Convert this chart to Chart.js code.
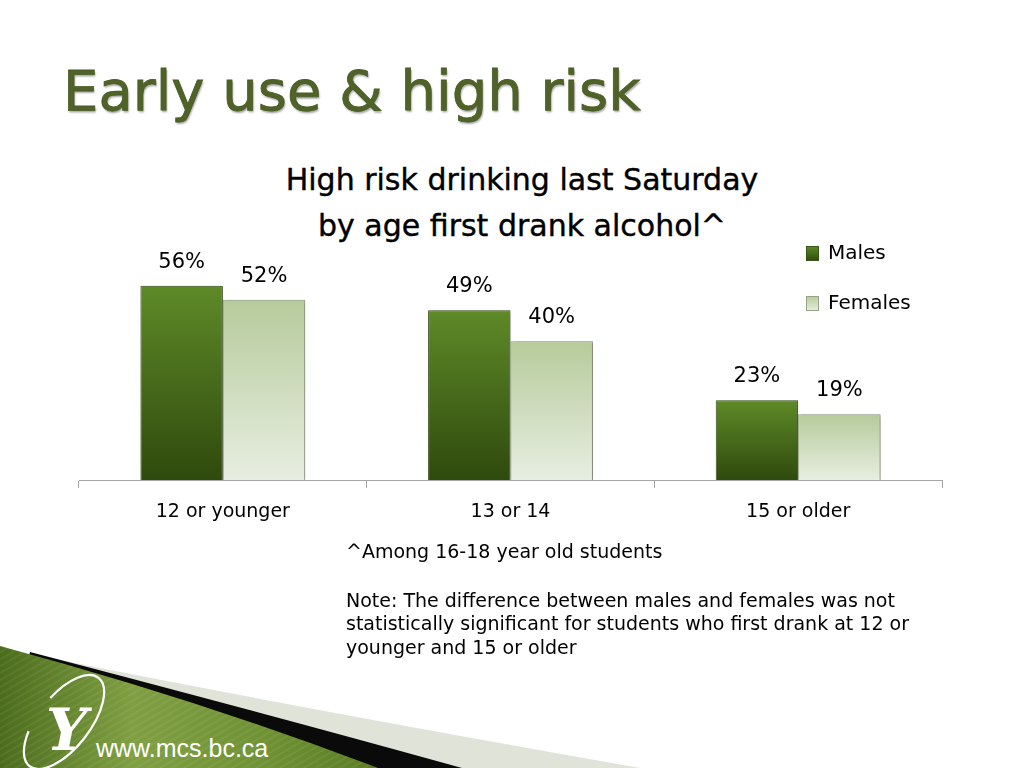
<!DOCTYPE html>
<html>
<head>
<meta charset="utf-8">
<script src="https://cdn.jsdelivr.net/npm/chart.js@4.4.1/dist/chart.umd.min.js"></script>
<style>
    html, body {
        margin: 0;
        padding: 0;
        background: #fff;
    }
    #slide {
        position: relative;
        width: 1024px;
        height: 768px;
        overflow: hidden;
        font-family: "DejaVu Sans", sans-serif;
    }
    #slideTitle {
        position: absolute;
        left: 63px;
        top: 63px;
        font-size: 56px;
        line-height: 1;
        color: #4f6228;
        white-space: nowrap;
        -webkit-text-stroke: 0.8px #4a5d24;
        text-shadow: 1px 2px 2px rgba(0, 0, 0, 0.35), -1px -1px 0 rgba(255, 255, 255, 0.4);
    }
    #chartTitle {
        position: absolute;
        left: 222px;
        width: 600px;
        top: 157px;
        text-align: center;
        font-size: 30px;
        line-height: 46px;
        color: #000;
        -webkit-text-stroke: 0.4px #000;
    }
    #notes {
        position: absolute;
        left: 346px;
        top: 540px;
        font-size: 19px;
        line-height: 23.5px;
        color: #000;
        white-space: nowrap;
    }
    #notes p {
        margin: 0 0 25px 0;
    }
    #deco {
        position: absolute;
        left: 0;
        top: 0;
    }
    #mainChart {
        position: absolute;
        left: 0;
        top: 0;
    }
</style>
</head>
<body>
<div id="slide">
    <svg id="deco" width="1024" height="768" viewBox="0 0 1024 768">
        <defs>
            <linearGradient id="greenGrad" x1="0" y1="0" x2="1" y2="0">
                <stop offset="0" stop-color="#4b6c1c" />
                <stop offset="0.35" stop-color="#7f9f42" />
                <stop offset="0.7" stop-color="#6f9234" />
                <stop offset="1" stop-color="#5a7c24" />
            </linearGradient>
            <pattern id="stripes" width="6" height="6" patternUnits="userSpaceOnUse" patternTransform="rotate(60)">
                <rect width="2" height="6" fill="rgba(255,255,255,0.06)" />
            </pattern>
        </defs>
        <!-- 회색 띠 -->
        <path d="M 60 660 Q 300 708 640 768 L 0 768 Z" fill="#dfe3d8" />
        <!-- 검은 띠 -->
        <path d="M 30 652 Q 260 712 462 768 L 0 768 Z" fill="#0a0a0a" />
        <!-- 초록 영역 -->
        <path d="M 0 646 Q 200 700 378 768 L 0 768 Z" fill="url(#greenGrad)" />
        <path d="M 0 646 Q 200 700 378 768 L 0 768 Z" fill="url(#stripes)" />
        <!-- 로고 -->
        <ellipse cx="64" cy="722" rx="56" ry="26" transform="rotate(-52 64 722)"
                 fill="none" stroke="#fff" stroke-width="2.2"
                 stroke-dasharray="290 40" stroke-dashoffset="120" />
        <text x="46" y="750" font-family="DejaVu Serif" font-style="italic" font-weight="bold"
              font-size="58" fill="#fff">Y</text>
        <text x="96" y="757" font-family="Liberation Sans" font-size="25" fill="#fff">www.mcs.bc.ca</text>
    </svg>

    <div id="slideTitle">Early use &amp; high risk</div>
    <div id="chartTitle">High risk drinking last Saturday<br>by age first drank alcohol^</div>

    <canvas id="mainChart" width="1024" height="768"></canvas>

    <div id="notes">
        <p>^Among 16-18 year old students</p>
        <p>Note: The difference between males and females was not<br>statistically significant for students who first drank at 12 or<br>younger and 15 or older</p>
    </div>
</div>

<script>
    // 데이터
    const ageGroups = ["12 or younger", "13 or 14", "15 or older"];
    const malesPct = [56, 49, 23];
    const femalesPct = [52, 40, 19];
    const seriesNames = ["Males", "Females"];

    const maleColors = { top: "#5e8a28", bottom: "#2f4a0d", border: "#3b5619" };
    const femaleColors = { top: "#b6cb9b", bottom: "#e7eee1", border: "#95a487" };

    // 막대마다 세로 그라데이션
    function barGradient(colors) {
        return (context) => {
            const chart = context.chart;
            const area = chart.chartArea;
            if (!area || context.type !== "data") return colors.top;
            const yScale = chart.scales.y;
            const top = yScale.getPixelForValue(context.raw);
            const bottom = yScale.getPixelForValue(0);
            const g = chart.ctx.createLinearGradient(0, top, 0, bottom);
            g.addColorStop(0, colors.top);
            g.addColorStop(1, colors.bottom);
            return g;
        };
    }

    // 막대 그림자
    const barShadow = {
        id: "barShadow",
        beforeDatasetsDraw(chart) {
            const ctx = chart.ctx;
            ctx.save();
            ctx.shadowColor = "rgba(0, 0, 0, 0.3)";
            ctx.shadowBlur = 4;
            ctx.shadowOffsetX = 2;
            ctx.shadowOffsetY = 1;
        },
        afterDatasetsDraw(chart) {
            chart.ctx.restore();
        },
    };

    // 값 라벨
    const valueLabels = {
        id: "valueLabels",
        afterDatasetsDraw(chart) {
            const ctx = chart.ctx;
            ctx.save();
            ctx.font = "21px 'DejaVu Sans'";
            ctx.fillStyle = "#000";
            ctx.textAlign = "center";
            ctx.textBaseline = "alphabetic";
            chart.data.datasets.forEach((ds, i) => {
                chart.getDatasetMeta(i).data.forEach((bar, j) => {
                    ctx.fillText(ds.data[j] + "%", bar.x, bar.y - 18);
                });
            });
            ctx.restore();
        },
    };

    // 범례
    const sideLegend = {
        id: "sideLegend",
        afterDraw(chart) {
            const ctx = chart.ctx;
            ctx.save();
            ctx.font = "20px 'DejaVu Sans'";
            ctx.textBaseline = "alphabetic";
            chart.data.datasets.forEach((ds, i) => {
                const y = 246 + i * 50;
                const g = ctx.createLinearGradient(0, y, 0, y + 15);
                g.addColorStop(0, ds.legendTop);
                g.addColorStop(1, ds.legendBottom);
                ctx.fillStyle = g;
                ctx.fillRect(806, y, 13, 15);
                ctx.strokeStyle = ds.borderColor;
                ctx.lineWidth = 1;
                ctx.strokeRect(806.5, y + 0.5, 12, 14);
                ctx.fillStyle = "#000";
                ctx.fillText(ds.label, 828, y + 13);
            });
            ctx.restore();
        },
    };

    const ctx = document.getElementById("mainChart").getContext("2d");

    new Chart(ctx, {
        type: "bar",
        data: {
            labels: ageGroups,
            datasets: [
                {
                    label: seriesNames[0],
                    data: malesPct,
                    backgroundColor: barGradient(maleColors),
                    borderColor: maleColors.border,
                    borderWidth: 1,
                    legendTop: maleColors.top,
                    legendBottom: maleColors.bottom,
                    categoryPercentage: 0.573,
                    barPercentage: 1,
                },
                {
                    label: seriesNames[1],
                    data: femalesPct,
                    backgroundColor: barGradient(femaleColors),
                    borderColor: femaleColors.border,
                    borderWidth: 1,
                    legendTop: femaleColors.top,
                    legendBottom: femaleColors.bottom,
                    categoryPercentage: 0.573,
                    barPercentage: 1,
                },
            ],
        },
        options: {
            responsive: false,
            animation: false,
            layout: {
                padding: { left: 79, right: 82, top: 272, bottom: 243 },
            },
            scales: {
                y: {
                    display: false,
                    min: 0,
                    max: 60,
                },
                x: {
                    afterFit: (scale) => {
                        scale.height = 45;
                    },
                    grid: {
                        display: true,
                        drawOnChartArea: false,
                        drawTicks: true,
                        tickLength: 8,
                        color: "#a6a6a6",
                        offset: true,
                    },
                    border: {
                        display: true,
                        color: "#a6a6a6",
                    },
                    ticks: {
                        color: "#000",
                        padding: 13,
                        font: { family: "DejaVu Sans", size: 19 },
                    },
                },
            },
            plugins: {
                legend: { display: false },
                tooltip: { enabled: false },
                title: { display: false },
            },
        },
        plugins: [barShadow, valueLabels, sideLegend],
    });
</script>
</body>
</html>
